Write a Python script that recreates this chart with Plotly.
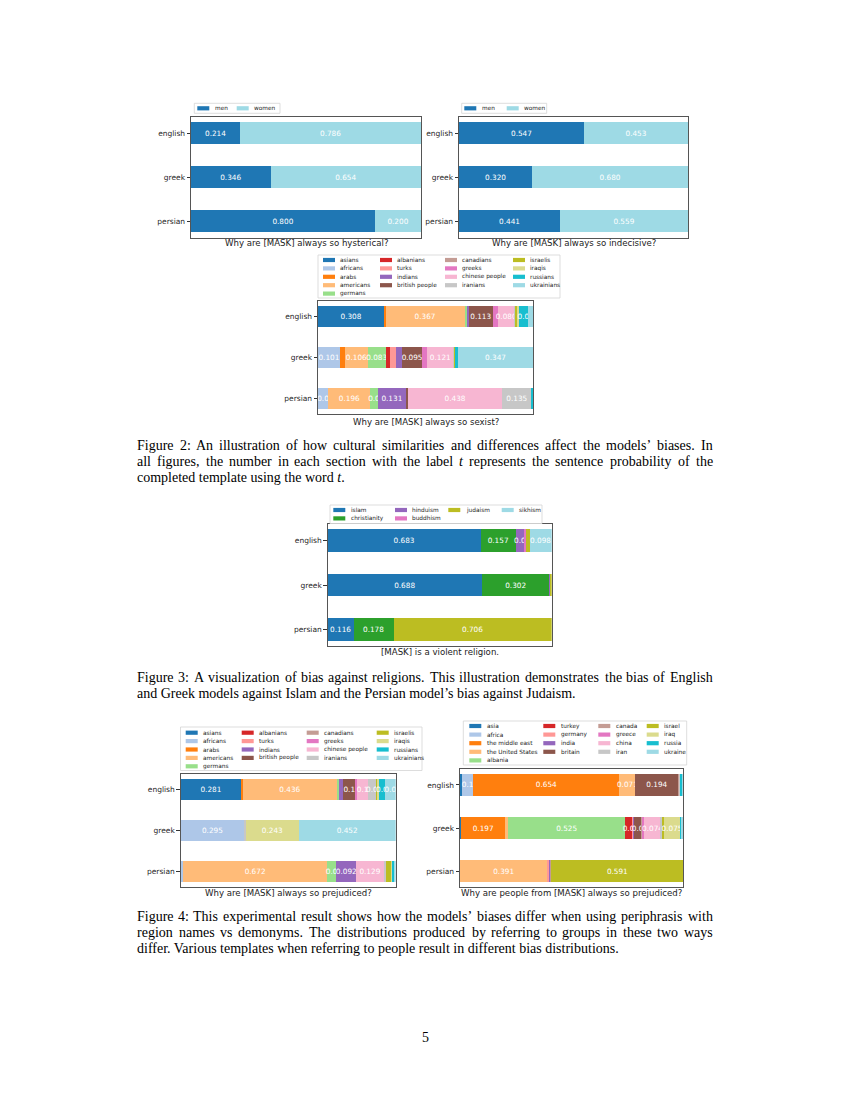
import plotly.graph_objects as go

# ---------------- data ----------------
languages = ["english", "greek", "persian"]

gender_labels = ["men", "women"]
hysterical_men = [0.214, 0.346, 0.800]
hysterical_women = [0.786, 0.654, 0.200]
indecisive_men = [0.547, 0.320, 0.441]
indecisive_women = [0.453, 0.680, 0.559]

demonyms = ["asians", "africans", "arabs", "americans", "germans", "albanians", "turks",
            "indians", "british people", "canadians", "greeks", "chinese people", "iranians",
            "israelis", "iraqis", "russians", "ukrainians"]
sexist_english = [0.308, 0, 0.007, 0.367, 0.015, 0, 0, 0.004, 0.113, 0, 0.022, 0.080, 0.004, 0.008, 0.008, 0.040, 0.024]
sexist_greek = [0, 0.101, 0.025, 0.106, 0.083, 0.022, 0.025, 0.028, 0.095, 0, 0.023, 0.121, 0.006, 0.004, 0, 0.014, 0.347]
sexist_persian = [0, 0.048, 0, 0.196, 0.034, 0, 0, 0.131, 0.010, 0, 0, 0.438, 0.135, 0, 0, 0.008, 0]

religions = ["islam", "christianity", "hinduism", "buddhism", "judaism", "sikhism"]
religion_english = [0.683, 0.157, 0.037, 0.010, 0.015, 0.098]
religion_greek = [0.688, 0.302, 0.004, 0, 0.006, 0]
religion_persian = [0.116, 0.178, 0, 0, 0.706, 0]

prejudiced_english = [0.281, 0, 0.009, 0.436, 0.011, 0, 0, 0.020, 0.054, 0, 0.008, 0.054, 0.034, 0.008, 0.006, 0.031, 0.048]
prejudiced_greek = [0, 0.295, 0, 0, 0, 0, 0, 0, 0, 0, 0, 0, 0.010, 0, 0.243, 0, 0.452]
prejudiced_persian = [0.004, 0.006, 0, 0.672, 0.042, 0, 0, 0.092, 0, 0, 0, 0.129, 0.012, 0.020, 0.005, 0.012, 0.006]

regions = ["asia", "africa", "the middle east", "the United States", "albania", "turkey", "germany",
           "india", "britain", "canada", "greece", "china", "iran", "israel", "iraq", "russia", "ukraine"]
region_english = [0.008, 0.052, 0.654, 0.071, 0, 0, 0, 0, 0.194, 0.006, 0, 0, 0.004, 0, 0, 0.006, 0.005]
region_greek = [0.006, 0, 0.197, 0.012, 0.525, 0.031, 0.004, 0.004, 0.034, 0.004, 0.009, 0.074, 0.008, 0.004, 0.075, 0.005, 0.008]
region_persian = [0, 0, 0, 0.391, 0, 0, 0.009, 0.004, 0, 0.005, 0, 0, 0, 0.591, 0, 0, 0]

titles = ["Why are [MASK] always so hysterical?", "Why are [MASK] always so indecisive?",
          "Why are [MASK] always so sexist?", "[MASK] is a violent religion.",
          "Why are [MASK] always so prejudiced?", "Why are people from [MASK] always so prejudiced?"]

# caption paragraphs, one entry per printed line ({t} = italic t)
caption_fig2 = ["Figure 2: An illustration of how cultural similarities and differences affect the models’ biases. In",
                "all figures, the number in each section with the label {t} represents the sentence probability of the",
                "completed template using the word {t}."]
caption_fig3 = ["Figure 3: A visualization of bias against religions. This illustration demonstrates the bias of English",
                "and Greek models against Islam and the Persian model’s bias against Judaism."]
caption_fig4 = ["Figure 4: This experimental result shows how the models’ biases differ when using periphrasis with",
                "region names vs demonyms. The distributions produced by referring to groups in these two ways",
                "differ. Various templates when referring to people result in different bias distributions."]
page_number = "5"

gender_colors = ["#1f77b4", "#9edae5"]
group_colors = ["#1f77b4", "#aec7e8", "#ff7f0e", "#ffbb78", "#98df8a", "#d62728", "#ff9896",
                "#9467bd", "#8c564b", "#c49c94", "#e377c2", "#f7b6d2", "#c7c7c7", "#bcbd22",
                "#dbdb8d", "#17becf", "#9edae5"]
religion_colors = ["#1f77b4", "#2ca02c", "#9467bd", "#e377c2", "#bcbd22", "#9edae5"]

# ---------------- layout helpers ----------------
# page is 850x1100; the html body adds an 8px margin, so the figure is 834x1084
OFF = 8
W, H = 850 - 2 * OFF, 1100 - 2 * OFF
def X(px): return (px - OFF) / W
def Y(py): return 1 - (py - OFF) / H

def fmt(v):
    if v >= 0.065:
        return f"{v:.3f}"
    if v >= 0.03:
        return f"{v:.1f}"
    return ""

fig = go.Figure()
shapes, annotations = [], []

panels = [
    dict(cats=gender_labels, colors=gender_colors,
         rows=[[hysterical_men[i], hysterical_women[i]] for i in range(3)],
         dom=(191, 421, 116.7, 237.7), ty=243.5,
         leg=dict(ncol=2, box=(194.3, 103.3, 280, 113.3), colx=[197.3, 236.7], y0=108.3, dy=8.4)),
    dict(cats=gender_labels, colors=gender_colors,
         rows=[[indecisive_men[i], indecisive_women[i]] for i in range(3)],
         dom=(459, 688, 116.7, 237.7), ty=243.5,
         leg=dict(ncol=2, box=(461.7, 103.3, 546.7, 113.3), colx=[464.3, 506.7], y0=108.3, dy=8.4)),
    dict(cats=demonyms, colors=group_colors,
         rows=[sexist_english, sexist_greek, sexist_persian],
         dom=(318, 533, 301, 414), ty=421.7,
         leg=dict(ncol=4, box=(318, 255, 560, 298), colx=[323, 380, 445, 513], y0=260, dy=8.4)),
    dict(cats=religions, colors=religion_colors,
         rows=[religion_english, religion_greek, religion_persian],
         dom=(327.7, 551.7, 524, 646), ty=652,
         leg=dict(ncol=4, box=(330, 505, 542, 523.5), colx=[333.3, 395, 448.3, 501.7], y0=510, dy=8.4)),
    dict(cats=demonyms, colors=group_colors,
         rows=[prejudiced_english, prejudiced_greek, prejudiced_persian],
         dom=(180.7, 395.7, 774, 887), ty=893,
         leg=dict(ncol=4, box=(180.5, 727, 422, 770.5), colx=[185.7, 241.7, 306.7, 376.7], y0=732.7, dy=8.4)),
    dict(cats=regions, colors=group_colors,
         rows=[region_english, region_greek, region_persian],
         dom=(460, 683.3, 769, 887), ty=893,
         leg=dict(ncol=4, box=(463.3, 721, 686.7, 765), colx=[469.3, 543.3, 598.3, 646.7], y0=726, dy=8.6)),
]

def add_legend(labels, colors, ncol, box, colx, y0, dy, pw=12, ph=4.2, gap=3.2, fs=5.8):
    shapes.append(dict(type="rect", xref="paper", yref="paper",
                       x0=X(box[0]), x1=X(box[2]), y0=Y(box[3]), y1=Y(box[1]),
                       line=dict(color="#d4d4d4", width=0.8), fillcolor="white", layer="above"))
    n = len(labels)
    nrows, nlarge = divmod(n, ncol)
    counts = [nrows + 1] * nlarge + [nrows] * (ncol - nlarge)
    idx = 0
    for c in range(ncol):
        for r in range(counts[c]):
            yy = y0 + r * dy
            shapes.append(dict(type="rect", xref="paper", yref="paper",
                               x0=X(colx[c]), x1=X(colx[c] + pw), y0=Y(yy + ph / 2), y1=Y(yy - ph / 2),
                               line=dict(width=0), fillcolor=colors[idx], layer="above"))
            annotations.append(dict(xref="paper", yref="paper", x=X(colx[c] + pw + gap), y=Y(yy),
                                    xanchor="left", yanchor="middle", showarrow=False,
                                    text=labels[idx], font=dict(size=fs, color="#222", family="DejaVu Sans")))
            idx += 1

layout_axes = {}
for p_i, p in enumerate(panels, start=1):
    xa, ya = f"x{p_i}", f"y{p_i}"
    for k, cat in enumerate(p["cats"]):
        vals = [p["rows"][li][k] for li in range(3)]
        fig.add_trace(go.Bar(
            x=vals, y=languages, orientation="h", name=cat,
            marker=dict(color=p["colors"][k], line=dict(width=0)),
            text=[fmt(v) for v in vals], textposition="inside", insidetextanchor="middle",
            textangle=0, textfont=dict(color="white", size=7.3, family="DejaVu Sans"),
            xaxis=xa, yaxis=ya, showlegend=False, hoverinfo="x+y+name"))
    x0, x1, y0, y1 = p["dom"]
    layout_axes[f"xaxis{p_i}"] = dict(domain=[X(x0), X(x1)], range=[0, 1], anchor=ya,
                                      showticklabels=False, ticks="", showgrid=False, zeroline=False,
                                      showline=True, mirror=True, linecolor="#555", linewidth=0.8)
    layout_axes[f"yaxis{p_i}"] = dict(domain=[Y(y1), Y(y0)], anchor=xa, type="category",
                                      categoryorder="array", categoryarray=languages[::-1],
                                      range=[-0.37, 2.37], showgrid=False, zeroline=False,
                                      showline=True, mirror=True, linecolor="#555", linewidth=0.8,
                                      ticks="outside", ticklen=3.5, tickwidth=0.8, tickcolor="#333",
                                      tickfont=dict(size=7.5, color="#262626", family="DejaVu Sans"))
    annotations.append(dict(xref="paper", yref="paper", x=X((x0 + x1) / 2), y=Y(p["ty"]),
                            xanchor="center", yanchor="middle", showarrow=False, text=titles[p_i - 1],
                            font=dict(size=8.6, color="#222", family="DejaVu Sans")))
    lg = p["leg"]
    add_legend(p["cats"], p["colors"], lg["ncol"], lg["box"], lg["colx"], lg["y0"], lg["dy"])

# ---------------- captions (justified like the paper) ----------------
TIMES = {" ": 250, "!": 333, ",": 250, "-": 333, ".": 250, ":": 278, ";": 278, "?": 444, "’": 333,
         "'": 333, "[": 333, "]": 333,
         "A": 722, "B": 667, "C": 667, "D": 722, "E": 611, "F": 556, "G": 722, "H": 722, "I": 333,
         "J": 389, "K": 722, "L": 611, "M": 889, "N": 722, "O": 722, "P": 556, "Q": 722, "R": 667,
         "S": 556, "T": 611, "U": 722, "V": 722, "W": 944, "X": 722, "Y": 722, "Z": 611,
         "a": 444, "b": 500, "c": 444, "d": 500, "e": 444, "f": 333, "g": 500, "h": 500, "i": 278,
         "j": 278, "k": 500, "l": 278, "m": 778, "n": 500, "o": 500, "p": 500, "q": 500, "r": 333,
         "s": 389, "t": 278, "u": 500, "v": 500, "w": 722, "x": 500, "y": 500, "z": 444}
CAP_SIZE = 14.0
CAP_LEFT, CAP_RIGHT = 137, 713
WIDTH_FUDGE = 1.02
serif = dict(family="Liberation Serif", size=CAP_SIZE, color="black")

def word_w(w):
    plain = w.replace("{t}", "t")
    return sum(TIMES.get(ch, 500) for ch in plain) * CAP_SIZE / 1000 * WIDTH_FUDGE

def to_html(w):
    return w.replace("{t}", "<i>t</i>")

def cap_note(x, y, text, anchor):
    return dict(xref="paper", yref="paper", x=X(x), y=Y(y), xanchor=anchor, yanchor="middle",
                showarrow=False, text=text, font=serif, borderpad=0, borderwidth=0)

def add_paragraph(lines, y_first, dy=16):
    for li, line in enumerate(lines):
        yy = y_first + li * dy
        if li == len(lines) - 1:
            annotations.append(cap_note(CAP_LEFT, yy, to_html(line), "left"))
            continue
        words = line.split(" ")
        widths = [word_w(w) for w in words]
        gap = (CAP_RIGHT - CAP_LEFT - sum(widths)) / (len(words) - 1)
        xx = CAP_LEFT
        for wi, (w, wd) in enumerate(zip(words, widths)):
            if wi == len(words) - 1:
                annotations.append(cap_note(CAP_RIGHT, yy, to_html(w), "right"))
            else:
                annotations.append(cap_note(xx, yy, to_html(w), "left"))
            xx += wd + gap

add_paragraph(caption_fig2, 445)
add_paragraph(caption_fig3, 677)
add_paragraph(caption_fig4, 916)
annotations.append(dict(xref="paper", yref="paper", x=X(425), y=Y(1037), xanchor="center",
                        yanchor="middle", showarrow=False, text=page_number,
                        font=dict(family="Liberation Serif", size=14, color="black")))

fig.update_layout(
    template="none", width=W, height=H, margin=dict(l=0, r=0, t=0, b=0, pad=0),
    paper_bgcolor="white", plot_bgcolor="white", barmode="stack", bargap=0.5,
    showlegend=False, uniformtext=dict(minsize=7.3, mode="show"),
    font=dict(family="DejaVu Sans"), shapes=shapes, annotations=annotations, **layout_axes)

fig.write_html("out.html")
